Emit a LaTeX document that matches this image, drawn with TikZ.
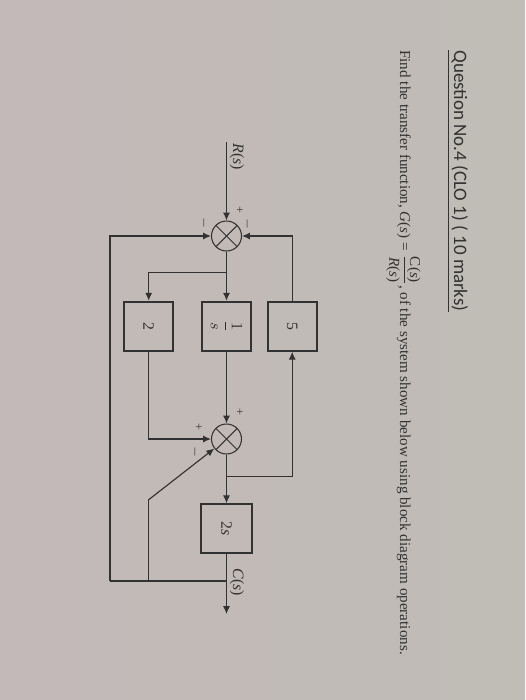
\documentclass[tikz,border=0pt]{standalone}
\usepackage{amsmath}
\usepackage{graphicx}
\usepackage{fontspec}
\setmainfont{Liberation Serif}
\newfontfamily\titlefont{Carlito}
\usetikzlibrary{arrows.meta}

\definecolor{paperL}{RGB}{194,185,184}
\definecolor{paperR}{RGB}{192,188,182}
\definecolor{ink}{RGB}{50,50,50}

\tikzset{
  blk/.style={draw=ink, line width=1.1pt, minimum width=0.98cm, minimum height=0.98cm, inner sep=0pt, text=ink, font=\fontsize{9}{9}\selectfont},
  sumj/.style={draw=ink, circle, line width=0.6pt, minimum size=0.6cm, inner sep=0pt,
    path picture={\draw[ink, line width=0.6pt] (path picture bounding box.north west) -- (path picture bounding box.south east)
      (path picture bounding box.north east) -- (path picture bounding box.south west);}},
  sgn/.style={rotate=-90, inner sep=0pt, text=ink, font=\fontsize{7}{7}\selectfont},
  lbl/.style={rotate=-90, inner sep=0pt, text=ink, font=\fontsize{9}{9}\selectfont},
  sig/.style={draw=ink, line width=0.65pt},
  arr/.style={sig, -{Latex[length=4.5pt,width=4pt]}}
}

\begin{document}
\begin{tikzpicture}[x=0.02cm, y=-0.02cm]
        % Paper
        \shade[left color=paperL, right color=paperR] (0,0) rectangle (525,700);
        \useasboundingbox (0,0) rectangle (525,700);

        % Question text (page is turned a quarter to the right)
        \node[rotate=-90, anchor=base west, inner sep=0pt, text=ink, font=\titlefont\fontsize{10.8}{12}\selectfont] (title) at (454,50)
          {\underline{Question No.4 (CLO 1) ( 10 marks)}};
        \node[rotate=-90, anchor=base west, inner sep=0pt, text=ink, font=\fontsize{8.6}{11}\selectfont] (task) at (400,50)
          {Find the transfer function, \textit{G}(\textit{s}) = $\dfrac{\text{C(\textit{s})}}{\text{\textit{R}(\textit{s})}}$, of the system shown below using block diagram operations.};

        % Summing junctions and blocks
        \node[sumj] (s1) at (226.5,236) {};
        \node[blk] (two) at (148.7,326.2) {\rotatebox{-90}{2}};
        \node[blk] (inv) at (226.5,326.2) {\rotatebox{-90}{$\dfrac{1}{s}$}};
        \node[blk] (five) at (292.2,326.2) {\rotatebox{-90}{5}};
        \node[sumj] (s2) at (226.5,439) {};
        \node[blk, minimum width=1.02cm] (gain) at (226.5,528.7) {\rotatebox{-90}{2\textit{s}}};

        % Branch points and free ends
        \coordinate (rin) at (226.5,142);
        \coordinate (j1) at (226.5,272.7);
        \coordinate (j2) at (226.5,476.7);
        \coordinate (j3) at (226.5,581);
        \coordinate (cout) at (226.5,614);
        \coordinate (d1) at (148.3,581);
        \coordinate (d2) at (148.3,500);
        \coordinate (lft) at (110,581);

        % Forward path
        \draw[arr] (rin) -- (s1);
        \draw[arr] (s1) -- (inv);
        \draw[arr] (j1) -| (two);
        \draw[arr] (inv) -- (s2);
        \draw[arr] (two) |- (s2);
        \draw[arr] (s2) -- (gain);
        \draw[arr] (gain) -- (cout);

        % Feedback paths
        \draw[arr] (j2) -| (five);
        \draw[arr] (five) |- (s1);
        \draw[sig] (j3) -- (lft);
        \draw[arr] (lft) |- (s1);
        \draw[sig] (d1) -- (d2);
        \draw[arr] (d2) -- (s2);

        % Signs
        \node[sgn] at (239.3,210) {+};
        \node[sgn] at (204,223.3) {$-$};
        \node[sgn] at (247.3,224.3) {$-$};
        \node[sgn] at (239.3,411.7) {+};
        \node[sgn] at (198.3,426.7) {+};
        \node[sgn] at (195,451.7) {$-$};

        % Signal labels
        \node[lbl] (rlab) at (237,157) {\textit{R}(\textit{s})};
        \node[lbl] (clab) at (237,582) {\textit{C}(\textit{s})};
\end{tikzpicture}
\end{document}
